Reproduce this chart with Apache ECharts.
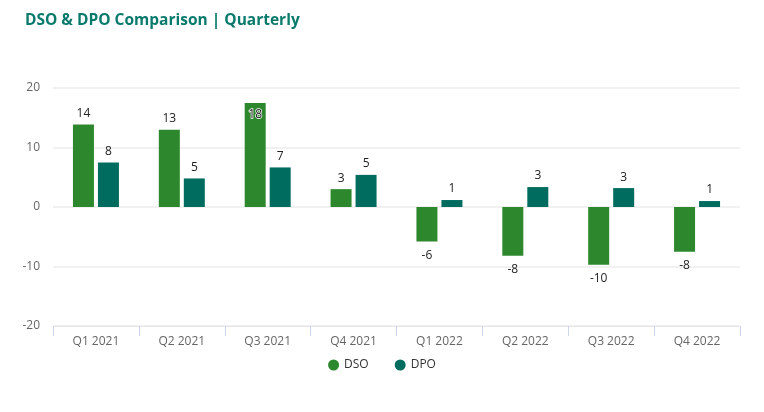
<!DOCTYPE html>
<html>
<head>
<meta charset="utf-8">
<script src="https://cdn.jsdelivr.net/npm/echarts@6/dist/echarts.min.js"></script>
<style>
html,body{margin:0;padding:0;background:#fff;}
#chart{width:764px;height:412px;}
</style>
</head>
<body>
<div id="chart"></div>
<script>
const categories = ['Q1 2021','Q2 2021','Q3 2021','Q4 2021','Q1 2022','Q2 2022','Q3 2022','Q4 2022'];
const dsoValues = [13.85, 13.0, 17.5, 3.0, -5.8, -8.2, -9.7, -7.54];
const dpoValues = [7.5, 4.8, 6.65, 5.4, 1.17, 3.35, 3.18, 1.0];
const yTicks = [-20, -10, 0, 10, 20];

const FONT = '"Open Sans", "Noto Sans", sans-serif';

function buildData(vals) {
  return vals.map(v => {
    const item = { value: v };
    if (v >= 0) {
      if (v > 17) {
        item.label = { position: 'insideTop', distance: 6, color: '#111', textBorderColor: '#ffffff', textBorderWidth: 1.5 };
      } else {
        item.label = { position: 'top', distance: 5 };
      }
    } else {
      item.label = { position: 'bottom', distance: 8 };
    }
    return item;
  });
}

const labelCommon = {
  show: true,
  fontFamily: FONT,
  fontSize: 12,
  color: '#222',
  formatter: p => String(Math.round(p.value))
};

const chart = echarts.init(document.getElementById('chart'));
chart.setOption({
  animation: false,
  backgroundColor: '#fff',
  title: {
    text: 'DSO & DPO Comparison | Quarterly',
    left: 20,
    top: 8,
    textStyle: { fontFamily: FONT, fontSize: 15.5, fontWeight: 'bold', color: '#0a7a6c' }
  },
  legend: {
    data: ['DSO', 'DPO'],
    bottom: 36,
    left: 'center',
    icon: 'circle',
    itemWidth: 11,
    itemHeight: 11,
    itemGap: 26,
    textStyle: { fontFamily: FONT, fontSize: 12, color: '#333' }
  },
  grid: { left: 53, right: 24, top: 88, bottom: 86, containLabel: false },
  xAxis: {
    type: 'category',
    data: categories,
    axisLine: { onZero: false, lineStyle: { color: '#e6e6e6', width: 1 } },
    axisTick: { show: true, length: 10, lineStyle: { color: '#ccd6eb' } },
    axisLabel: { fontFamily: FONT, fontSize: 12, color: '#666', margin: 10 }
  },
  yAxis: {
    type: 'value',
    min: yTicks[0],
    max: yTicks[yTicks.length - 1],
    interval: 10,
    axisLine: { show: false },
    axisTick: { show: false },
    splitLine: { lineStyle: { color: '#ececec', width: 1.5 } },
    axisLabel: { fontFamily: FONT, fontSize: 12, color: '#666', margin: 13 }
  },
  series: [
    {
      name: 'DSO', type: 'bar', data: buildData(dsoValues),
      itemStyle: { color: '#2d882d' },
      barWidth: 21, barGap: '19%',
      label: labelCommon
    },
    {
      name: 'DPO', type: 'bar', data: buildData(dpoValues),
      itemStyle: { color: '#006b5f' },
      barWidth: 21, barGap: '19%',
      label: labelCommon
    }
  ]
});
</script>
</body>
</html>
